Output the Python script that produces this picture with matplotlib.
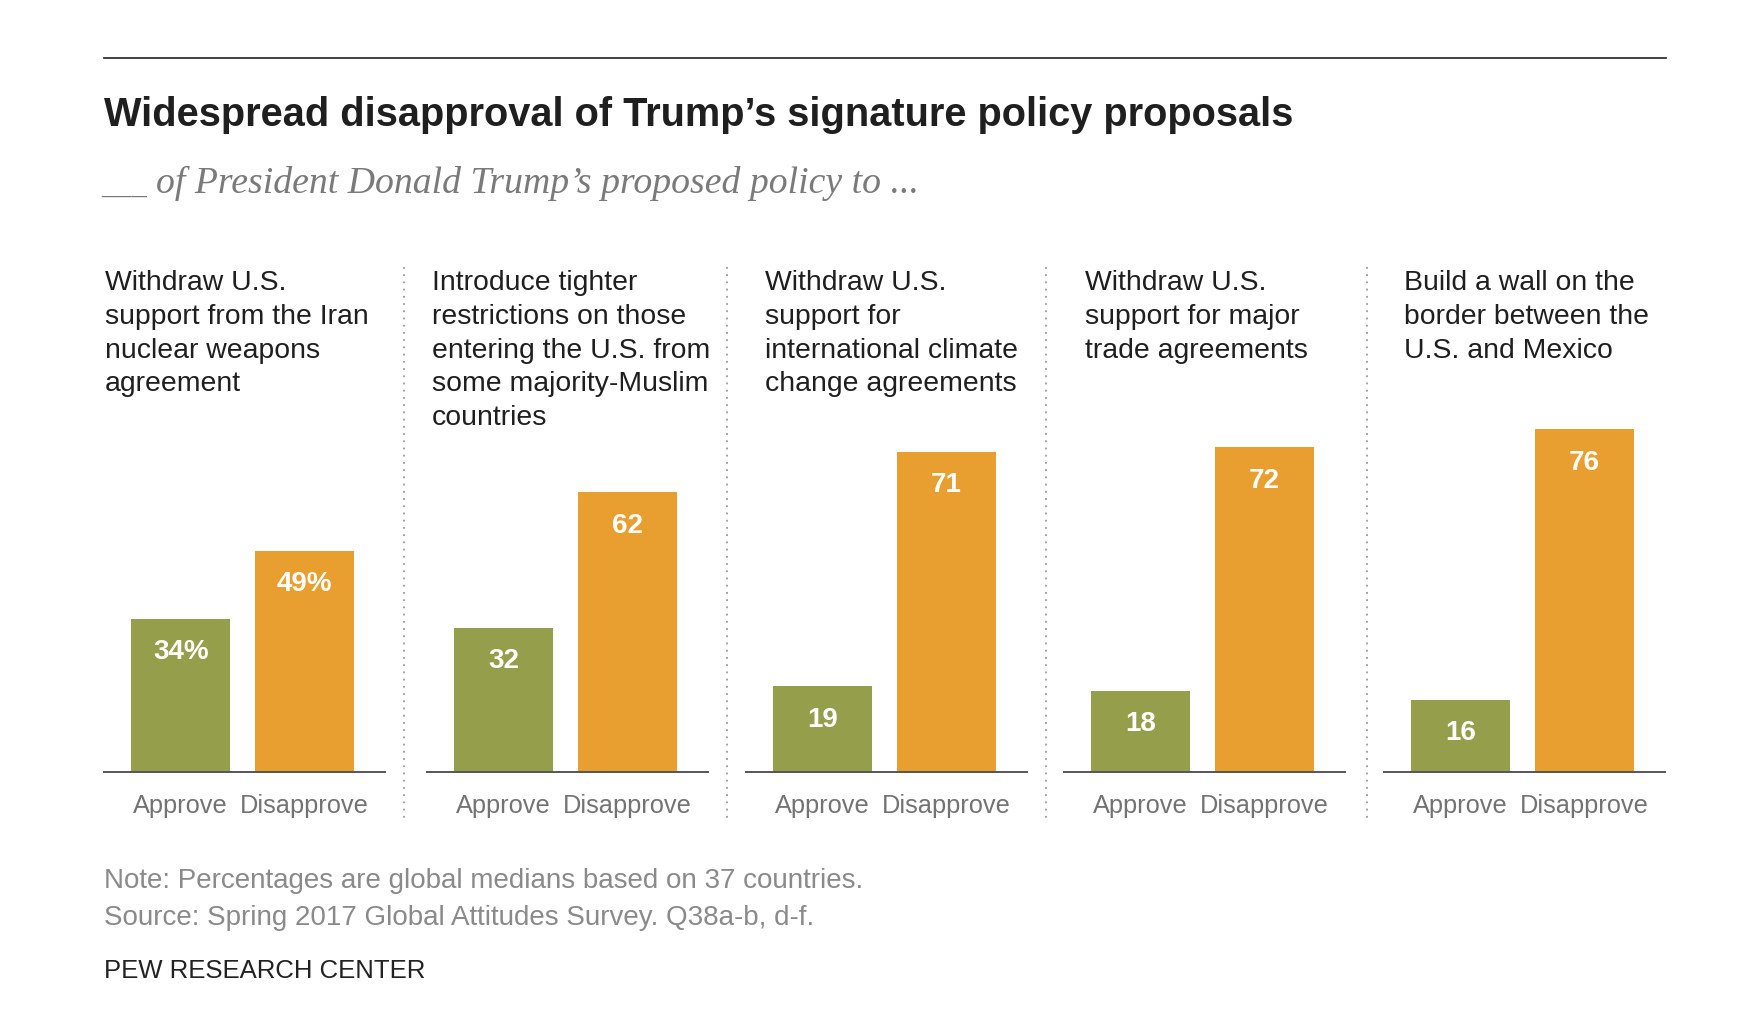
import matplotlib.pyplot as plt

W, H, DPI = 1760, 1024, 100

# data
topics = [
    "Withdraw U.S.\nsupport from the Iran\nnuclear weapons\nagreement",
    "Introduce tighter\nrestrictions on those\nentering the U.S. from\nsome majority-Muslim\ncountries",
    "Withdraw U.S.\nsupport for\ninternational climate\nchange agreements",
    "Withdraw U.S.\nsupport for major\ntrade agreements",
    "Build a wall on the\nborder between the\nU.S. and Mexico",
]
categories = ["Approve", "Disapprove"]
approve = [34, 32, 19, 18, 16]
disapprove = [49, 62, 71, 72, 76]

GREEN = "#959E4B"
ORANGE = "#E99F2F"
SANS = ["Liberation Sans", "DejaVu Sans"]
SERIF = ["Liberation Serif", "DejaVu Serif"]

fig = plt.figure(figsize=(W / DPI, H / DPI), dpi=DPI)


def fx(x):
    return x / W


def fy(y):
    return 1 - y / H


# top rule
fig.add_artist(plt.Line2D([fx(104), fx(1666)], [fy(58), fy(58)],
                          color="#333333", lw=1.3))

fig.text(fx(104), fy(126), "Widespread disapproval of Trump\u2019s signature policy proposals",
         family=SANS, weight="bold", size=28.6, color="#1f1f1f", va="baseline")
fig.text(fx(101), fy(193), "___", family=SERIF, size=22, color="#7a7a7a",
         va="baseline")
fig.text(fx(156), fy(193), "of President Donald Trump\u2019s proposed policy to ...",
         family=SERIF, style="italic", size=27.2, color="#7a7a7a", va="baseline")

panel_left = [104, 427, 746, 1064, 1384]
panel_w = 281
text_x = [105, 432, 765, 1085, 1404]
sep_x = [404, 727, 1046, 1367]

for i, left in enumerate(panel_left):
    ax = fig.add_axes([fx(left), fy(772), panel_w / W, 451 / H])
    vals = [approve[i], disapprove[i]]
    bars = ax.bar([0, 1], vals, width=0.8, color=[GREEN, ORANGE])
    ax.set_xlim(-0.62, 1.65)
    ax.set_ylim(0, 100)
    for s in ["top", "left", "right"]:
        ax.spines[s].set_visible(False)
    ax.spines["bottom"].set_color("#555555")
    ax.spines["bottom"].set_linewidth(1.4)
    ax.set_yticks([])
    ax.set_xticks([0, 1])
    ax.set_xticklabels(categories, family=SANS, size=18.3, color="#737373")
    ax.tick_params(axis="x", length=0, pad=16)
    suffix = "%" if i == 0 else ""
    for b, v in zip(bars, vals):
        ax.annotate(f"{v}{suffix}", (b.get_x() + b.get_width() / 2, v),
                    xytext=(0, -24), textcoords="offset points",
                    ha="center", va="center", color="white",
                    family=SANS, weight="bold", size=20)
    fig.text(fx(text_x[i]), fy(270), topics[i], family=SANS, size=20.4,
             color="#1f1f1f", va="top", ha="left", linespacing=1.39)

for x in sep_x:
    fig.add_artist(plt.Line2D([fx(x), fx(x)], [fy(267), fy(818)],
                              color="#9a9a9a", lw=1.3, ls=(0, (1, 3))))

fig.text(fx(104), fy(881), "Note: Percentages are global medians based on 37 countries.",
         family=SANS, size=20, color="#8a8a8a", va="center")
fig.text(fx(104), fy(918), "Source: Spring 2017 Global Attitudes Survey. Q38a-b, d-f.",
         family=SANS, size=20, color="#8a8a8a", va="center")
fig.text(fx(104), fy(971), "PEW RESEARCH CENTER",
         family=SANS, size=18.5, color="#222222", va="center")

fig.savefig("out.png", dpi=DPI, facecolor="white")
